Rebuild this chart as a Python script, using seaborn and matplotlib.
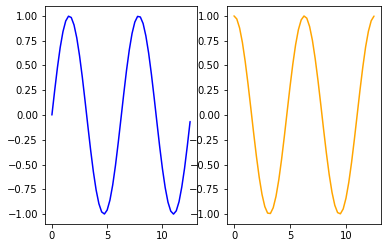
import matplotlib
matplotlib.use("Agg")
import matplotlib.pyplot as plt
import seaborn as sns
import pandas as pd

x_vals = [0.0, 0.25, 0.5, 0.75, 1.0, 1.25, 1.5, 1.75, 2.0, 2.25, 2.5, 2.75, 3.0,
          3.25, 3.5, 3.75, 4.0, 4.25, 4.5, 4.75, 5.0, 5.25, 5.5, 5.75, 6.0,
          6.25, 6.5, 6.75, 7.0, 7.25, 7.5, 7.75, 8.0, 8.25, 8.5, 8.75, 9.0,
          9.25, 9.5, 9.75, 10.0, 10.25, 10.5, 10.75, 11.0, 11.25, 11.5, 11.75,
          12.0, 12.25, 12.5]

sin_vals = [0.0, 0.247, 0.479, 0.682, 0.841, 0.949, 0.997, 0.984, 0.909, 0.778,
            0.598, 0.382, 0.141, -0.108, -0.351, -0.572, -0.757, -0.895, -0.978,
            -0.999, -0.959, -0.859, -0.706, -0.509, -0.279, -0.033, 0.215, 0.451,
            0.657, 0.823, 0.938, 0.995, 0.989, 0.923, 0.798, 0.625, 0.412, 0.174,
            -0.075, -0.320, -0.544, -0.734, -0.880, -0.970, -1.000, -0.967, -0.875,
            -0.726, -0.537, -0.311, -0.066]

cos_vals = [1.0, 0.969, 0.878, 0.732, 0.540, 0.315, 0.071, -0.178, -0.416, -0.628,
            -0.801, -0.924, -0.990, -0.994, -0.936, -0.821, -0.654, -0.446, -0.211,
            0.038, 0.284, 0.512, 0.709, 0.861, 0.960, 0.999, 0.977, 0.893, 0.754,
            0.568, 0.347, 0.104, -0.146, -0.386, -0.602, -0.780, -0.911, -0.985,
            -0.997, -0.948, -0.839, -0.679, -0.476, -0.243, 0.004, 0.252, 0.483,
            0.686, 0.844, 0.951, 0.998]

df = pd.DataFrame({"x": x_vals, "sin": sin_vals, "cos": cos_vals})

sns.set_style("ticks")
plt.rcParams["font.family"] = ["DejaVu Sans"]
plt.rcParams["font.size"] = 10

fig = plt.figure(figsize=(386 / 72, 248 / 72), dpi=72)
ax1 = fig.add_axes([45 / 386, 1 - 224 / 248, 152 / 386, 218 / 248])
ax2 = fig.add_axes([227 / 386, 1 - 224 / 248, 154 / 386, 218 / 248])

sns.lineplot(data=df, x="x", y="sin", ax=ax1, color="blue", linewidth=1.5)
sns.lineplot(data=df, x="x", y="cos", ax=ax2, color="orange", linewidth=1.5)

for ax in (ax1, ax2):
    ax.set_xlabel("")
    ax.set_ylabel("")
    ax.set_yticks([-1.0, -0.75, -0.5, -0.25, 0.0, 0.25, 0.5, 0.75, 1.0])
    ax.set_xticks([0, 5, 10])
    ax.set_ylim(-1.1, 1.1)
    ax.tick_params(labelsize=10, colors="black")
    for s in ax.spines.values():
        s.set_visible(True)
        s.set_color("black")
        s.set_linewidth(0.8)

fig.savefig("out.png", dpi=72)
